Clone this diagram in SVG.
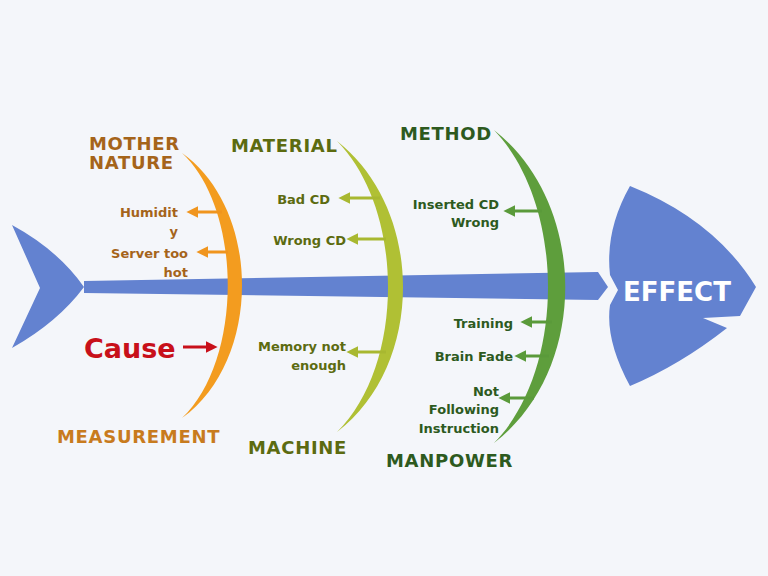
<svg xmlns="http://www.w3.org/2000/svg" width="768" height="576" viewBox="0 0 768 576">
<defs>
<marker id="ao" viewBox="0 0 10 10" refX="2" refY="5" markerWidth="4" markerHeight="4" orient="auto"><path d="M0,0L10,5L0,10z" fill="#f0951e"/></marker>
<marker id="al" viewBox="0 0 10 10" refX="2" refY="5" markerWidth="4" markerHeight="4" orient="auto"><path d="M0,0L10,5L0,10z" fill="#a8b830"/></marker>
<marker id="ag" viewBox="0 0 10 10" refX="2" refY="5" markerWidth="4" markerHeight="4" orient="auto"><path d="M0,0L10,5L0,10z" fill="#5a9a3a"/></marker>
<marker id="ar" viewBox="0 0 10 10" refX="2" refY="5" markerWidth="4" markerHeight="4" orient="auto"><path d="M0,0L10,5L0,10z" fill="#c8101a"/></marker>
</defs>
<style>
text{font-family:"DejaVu Sans",sans-serif;font-weight:bold}
.big{font-size:18px;letter-spacing:0.7px}
.sm{font-size:13px;text-anchor:end}
.o{fill:#a5641a}.l{fill:#5c6b10}.g{fill:#2d5a1e}
.co{stroke:#f0951e;stroke-width:3;fill:none;marker-end:url(#ao)}
.cl{stroke:#a8b830;stroke-width:3;fill:none;marker-end:url(#al)}
.cg{stroke:#5a9a3a;stroke-width:3;fill:none;marker-end:url(#ag)}
</style>
<rect width="768" height="576" fill="#f4f6fa"/>
<g id="tail"><path d="M12,225 Q58,250 84,287 Q58,322 12,348 L40,288 Z" fill="#6382d0"/></g>
<g id="spine"><path d="M84,281 L598,272 L608,287 L598,300 L84,293 Z" fill="#6382d0"/></g>
<g id="head"><path d="M630,186 Q715,220 756,287 L740,316 L703,318 L727,328 Q680,365 630,386 Q605,340 610,305 L618,290 L610,275 Q605,230 630,186 Z" fill="#6382d0"/>
<text x="677" y="301" font-size="26" fill="#fff" text-anchor="middle">EFFECT</text></g>
<g id="rib-orange"><path d="M182,153 C262,210 262,360 182,418 C243,360 243,210 182,153 Z" fill="#f39c1f"/></g>
<g id="rib-lime"><path d="M337,141 C425,210 425,365 337,432 C405,365 405,210 337,141 Z" fill="#b0c034"/></g>
<g id="rib-green"><path d="M494,130 C589,205 589,370 494,443 C566,370 566,205 494,130 Z" fill="#5e9e3c"/></g>
<g id="connectors">
<path class="co" d="M222,212H196"/><path class="co" d="M228,252H206"/>
<path d="M183,347H208" stroke="#c8101a" stroke-width="3" marker-end="url(#ar)"/>
<path class="cl" d="M380,198H348"/><path class="cl" d="M386,239H356"/><path class="cl" d="M386,352H356"/>
<path class="cg" d="M542,211H513"/><path class="cg" d="M552,322H530"/><path class="cg" d="M549,356H524"/><path class="cg" d="M534,398H508"/>
</g>
<g id="labels">
<text class="big o" x="89" y="150">MOTHER</text><text class="big o" x="89" y="169">NATURE</text>
<text class="big l" x="231" y="152">MATERIAL</text>
<text class="big g" x="400" y="140">METHOD</text>
<text class="big" x="57" y="443" fill="#c87b1e">MEASUREMENT</text>
<text class="big l" x="248" y="454">MACHINE</text>
<text class="big g" x="386" y="467">MANPOWER</text>
<text x="84" y="358" font-size="27" fill="#c8101a">Cause</text>
<text class="sm o" x="178" y="217">Humidit</text><text class="sm o" x="178" y="236">y</text>
<text class="sm o" x="188" y="258">Server too</text><text class="sm o" x="188" y="277">hot</text>
<text class="sm l" x="330" y="204">Bad CD</text><text class="sm l" x="346" y="245">Wrong CD</text>
<text class="sm l" x="346" y="351">Memory not</text><text class="sm l" x="346" y="370">enough</text>
<text class="sm g" x="499" y="209">Inserted CD</text><text class="sm g" x="499" y="227">Wrong</text>
<text class="sm g" x="513" y="328">Training</text><text class="sm g" x="513" y="361">Brain Fade</text>
<text class="sm g" x="499" y="396">Not</text><text class="sm g" x="499" y="414">Following</text><text class="sm g" x="499" y="433">Instruction</text>
</g>
</svg>
